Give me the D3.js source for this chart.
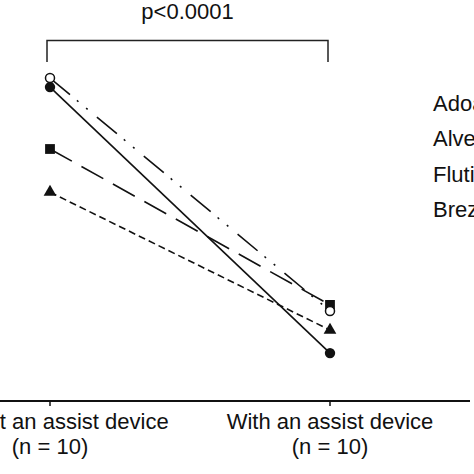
<!DOCTYPE html>
<html>
<head>
<meta charset="utf-8">
<script src="https://cdn.jsdelivr.net/npm/d3@7"></script>
<style>
  html, body { margin: 0; padding: 0; background: #fff; }
  svg { display: block; font-family: Arial, 'Liberation Sans', sans-serif; }
</style>
</head>
<body>
<div id="chart"></div>
<script>
// data ----------------------------------------------------------------------------------------
const categories = ['Without an assist device', 'With an assist device'];
const nLabels = ['(n = 10)', '(n = 10)'];
const seriesNames = ['Adoair', 'Alvesco', 'Flutiform', 'Breztri'];
const seriesMarkers = ['circleOpen', 'circle', 'square', 'triangle'];
const seriesDash = ['26,9,2,10,2,12', null, '25,11', '7,4'];
const valuesWithout = [89.7, 87.2, 70.0, 58.0];
const valuesWith = [25.0, 13.3, 26.7, 19.7];
const pLabel = 'p<0.0001';
// ---------------------------------------------------------------------------------------------
const width = 474;
const height = 474;
const axisY = 401;

const series = seriesNames.map((name, i) => ({
  name: name,
  marker: seriesMarkers[i],
  dash: seriesDash[i],
  values: [valuesWithout[i], valuesWith[i]]
}));

const x = d3.scalePoint()
  .domain(categories)
  .range([50, 330]);

const y = d3.scaleLinear()
  .domain([0, 100])
  .range([axisY, 41]);

const svg = d3.select('#chart').append('svg')
  .attr('width', width)
  .attr('height', height)
  .attr('viewBox', '0 0 ' + width + ' ' + height);

// x axis --------------------------------------------------------------------------------------
svg.append('line')
  .attr('x1', 0)
  .attr('x2', 470)
  .attr('y1', axisY)
  .attr('y2', axisY)
  .attr('stroke', '#111')
  .attr('stroke-width', 1.8);

svg.append('g')
  .selectAll('line')
  .data(categories)
  .enter()
  .append('line')
  .attr('x1', d => x(d))
  .attr('x2', d => x(d))
  .attr('y1', axisY)
  .attr('y2', axisY + 5)
  .attr('stroke', '#111')
  .attr('stroke-width', 1.5);

const labels = svg.append('g')
  .attr('font-size', '22px')
  .attr('fill', '#111')
  .attr('text-anchor', 'middle')
  .selectAll('text')
  .data(categories)
  .enter();

labels.append('text')
  .attr('x', d => x(d))
  .attr('y', 429)
  .text(d => d);

labels.append('text')
  .attr('x', d => x(d))
  .attr('y', 454)
  .text((d, i) => nLabels[i]);

// 有意差ブラケット -----------------------------------------------------------------------------
const bx0 = x(categories[0]) - 3;
const bx1 = x(categories[1]) - 2;
svg.append('path')
  .attr('d', 'M' + bx0 + ',62V40.5H' + bx1 + 'V62')
  .attr('fill', 'none')
  .attr('stroke', '#222')
  .attr('stroke-width', 1.5);

svg.append('text')
  .attr('x', (bx0 + bx1) / 2)
  .attr('y', 19)
  .attr('text-anchor', 'middle')
  .attr('font-size', '22px')
  .attr('fill', '#111')
  .text(pLabel);

// lines ---------------------------------------------------------------------------------------
const line = d3.line()
  .x((d, i) => x(categories[i]))
  .y(d => y(d));

svg.append('g')
  .selectAll('path')
  .data(series)
  .enter()
  .append('path')
  .attr('d', d => line(d.values))
  .attr('fill', 'none')
  .attr('stroke', '#111')
  .attr('stroke-width', 1.6)
  .attr('stroke-dasharray', d => d.dash);

// markers (square -> open circle -> filled circle -> triangle) -------------------------------
const drawOrder = ['square', 'circleOpen', 'circle', 'triangle'];
const ordered = drawOrder.map(m => series.find(s => s.marker === m));

const markerG = svg.append('g')
  .selectAll('g')
  .data(ordered)
  .enter()
  .append('g');

markerG.each(function (s) {
  const g = d3.select(this);
  s.values.forEach((v, i) => {
    const cx = x(categories[i]);
    const cy = y(v);
    switch (s.marker) {
      case 'circleOpen':
        g.append('circle')
          .attr('cx', cx).attr('cy', cy).attr('r', 4.5)
          .attr('fill', '#fff').attr('stroke', '#111').attr('stroke-width', 1.5);
        break;
      case 'circle':
        g.append('circle')
          .attr('cx', cx).attr('cy', cy).attr('r', 5.2)
          .attr('fill', '#111');
        break;
      case 'square':
        g.append('path')
          .attr('transform', 'translate(' + cx + ',' + cy + ')')
          .attr('d', d3.symbol(d3.symbolSquare, 96)())
          .attr('fill', '#111');
        break;
      case 'triangle':
        g.append('path')
          .attr('transform', 'translate(' + cx + ',' + cy + ')')
          .attr('d', d3.symbol(d3.symbolTriangle, 70)())
          .attr('fill', '#111');
        break;
    }
  });
});

// legend --------------------------------------------------------------------------------------
svg.append('g')
  .attr('font-size', '22px')
  .attr('fill', '#111')
  .selectAll('text')
  .data(series)
  .enter()
  .append('text')
  .attr('x', 433)
  .attr('y', (d, i) => 111 + i * 35.3)
  .text(d => d.name);
</script>
</body>
</html>
